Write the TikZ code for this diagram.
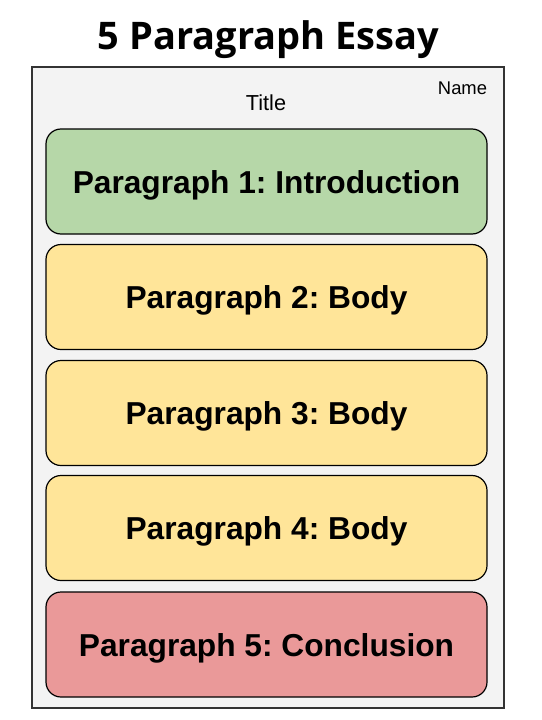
\documentclass[tikz,border=0pt]{standalone}
\usepackage{fontspec}
\setmainfont{Liberation Sans}
\newfontfamily\headfont{Open Sans}
\definecolor{introgreen}{HTML}{B6D7A8}
\definecolor{bodyyellow}{HTML}{FFE599}
\definecolor{endred}{HTML}{EA9999}
\definecolor{sheetgray}{HTML}{F3F3F3}
\frenchspacing
\begin{document}
\begin{tikzpicture}[
		x=1pt, y=-1pt,
		para/.style={
				rounded corners=15pt,
				fill=#1,
				draw=black,
				line width=1.2pt,
				minimum width=441pt,
				minimum height=105pt,
				inner sep=0pt,
				text height=23pt,
				text depth=0pt,
				font=\fontsize{31.7}{36}\selectfont\bfseries,
			},
		sheet/.style={
				fill=sheetgray,
				draw=black!80,
				line width=1.2pt,
				minimum width=472pt,
				minimum height=641pt,
				inner sep=0pt,
			},
	]
	\useasboundingbox (0,0) rectangle (541,720);

	\node (heading) at (268.5,40) {\headfont\fontsize{38}{44}\selectfont\bfseries 5 Paragraph Essay};
	\node[sheet] (page) at (268,387.5) {};
	\node[inner sep=0pt, font=\fontsize{21.7}{26}\selectfont] (title) at (266,102.5) {Title};
	\node[inner sep=0pt, font=\fontsize{18.4}{22}\selectfont] (name) at (462.5,88) {Name};

	\node[para=introgreen] (par1) at (266.5,181.5) {Paragraph 1: Introduction};
	\node[para=bodyyellow] (par2) at (266.5,297) {Paragraph 2: Body};
	\node[para=bodyyellow] (par3) at (266.5,413) {Paragraph 3: Body};
	\node[para=bodyyellow] (par4) at (266.5,528) {Paragraph 4: Body};
	\node[para=endred] (par5) at (266.5,644.5) {Paragraph 5: Conclusion};
\end{tikzpicture}
\end{document}
